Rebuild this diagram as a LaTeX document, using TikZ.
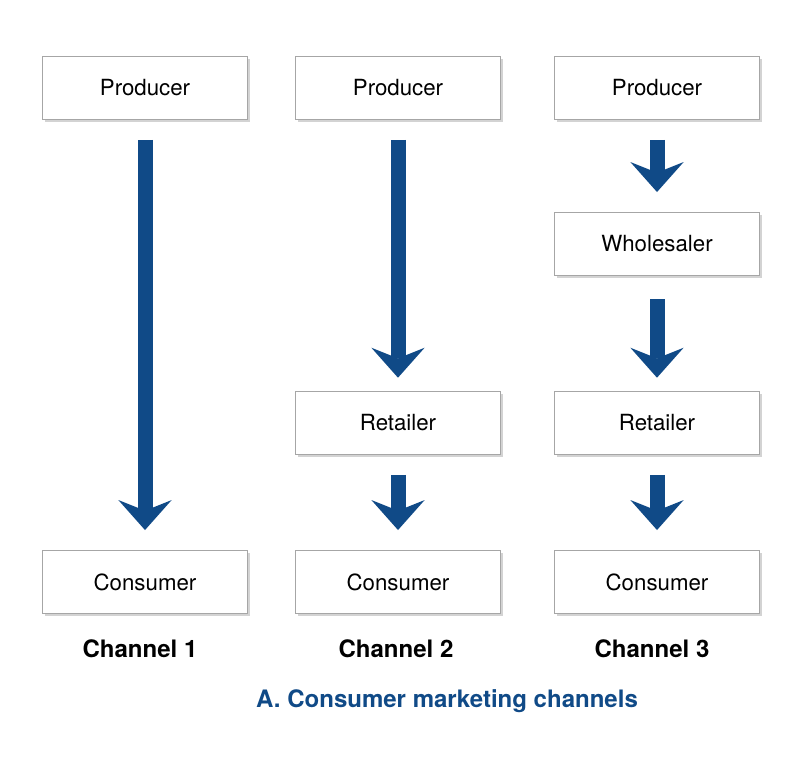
\documentclass[tikz,border=0pt]{standalone}
\usepackage{fontspec}
\setmainfont{TeX Gyre Heros}
\usetikzlibrary{arrows.meta,shadows}
\definecolor{chanblue}{RGB}{16,74,135}

\begin{document}
\begin{tikzpicture}[x=0.03cm,y=-0.03cm,
    box/.style={draw=gray!70,line width=0.8pt,fill=white,minimum width=6.15cm,minimum height=1.89cm,
        font=\fontsize{19}{22}\selectfont,drop shadow={shadow xshift=2pt,shadow yshift=-2pt,opacity=0.35}},
    flow/.style={draw=chanblue,line width=0.45cm,-{Stealth[length=0.9cm,width=1.6cm,inset=0.32cm,line width=0pt]}},
    chan/.style={font=\fontsize{20.5}{24}\selectfont\bfseries}]
    \useasboundingbox (0,0) rectangle (787,761);

    % Channel 1
    \node[box] (prodA) at (145,88) {Producer};
    \node[box] (consA) at (145,582) {Consumer};
    % Channel 2
    \node[box] (prodB) at (398,88) {Producer};
    \node[box] (retB) at (398,423) {Retailer};
    \node[box] (consB) at (398,582) {Consumer};
    % Channel 3
    \node[box] (prodC) at (657,88) {Producer};
    \node[box] (whoC) at (657,244) {Wholesaler};
    \node[box] (retC) at (657,423) {Retailer};
    \node[box] (consC) at (657,582) {Consumer};

    % arrows
    \draw[flow] ([yshift=-0.6cm]prodA.south) -- ([yshift=0.6cm]consA.north);
    \draw[flow] ([yshift=-0.6cm]prodB.south) -- ([yshift=0.4cm]retB.north);
    \draw[flow] ([yshift=-0.6cm]retB.south) -- ([yshift=0.6cm]consB.north);
    \draw[flow] ([yshift=-0.6cm]prodC.south) -- ([yshift=0.6cm]whoC.north);
    \draw[flow] ([yshift=-0.7cm]whoC.south) -- ([yshift=0.4cm]retC.north);
    \draw[flow] ([yshift=-0.6cm]retC.south) -- ([yshift=0.6cm]consC.north);

    % labels
    \node[chan] (labA) at (140,649) {Channel 1};
    \node[chan] (labB) at (396,649) {Channel 2};
    \node[chan] (labC) at (652,649) {Channel 3};
    \node[chan,text=chanblue] (title) at (447,701) {A. Consumer marketing channels};
\end{tikzpicture}
\end{document}
